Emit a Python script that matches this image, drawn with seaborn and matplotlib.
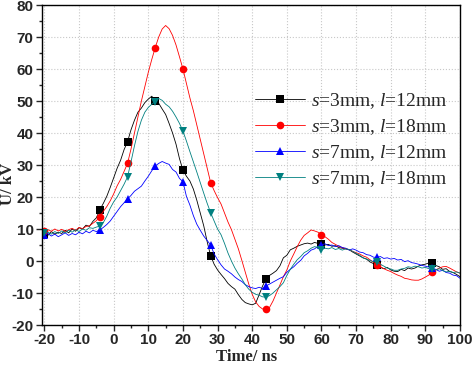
import numpy as np
import matplotlib
matplotlib.use("Agg")
import matplotlib.pyplot as plt
from matplotlib.ticker import MultipleLocator
from matplotlib.font_manager import FontProperties
import seaborn as sns

# time axis, 1 ns steps
time_ns = np.arange(-20, 101, 1)

u_s3_l12 = [
    8.5, 8.0, 9.2, 8.4, 9.0, 8.6, 9.6, 8.8, 10.0, 9.3,
    10.4, 10.0, 11.2, 10.8, 12.4, 13.5, 16.0, 18.0, 20.2, 23.0,
    26.0, 29.0, 31.5, 34.8, 37.3, 41.0, 44.0, 46.5, 47.8, 49.5,
    50.6, 51.5, 50.0, 49.3, 47.5, 45.8, 43.0, 40.0, 36.5, 32.0,
    28.4, 26.5, 25.0, 22.5, 19.0, 15.0, 11.0, 6.0, 1.6, -1.0,
    -2.8, -4.2, -5.5, -7.0, -8.0, -8.8, -10.5, -12.0, -13.0, -13.4,
    -13.7, -13.2, -10.5, -7.8, -5.5, -4.5, -3.8, -3.0, -1.5, 1.0,
    1.8, 3.5, 4.0, 4.6, 5.0, 5.4, 5.6, 5.3, 5.8, 5.5,
    5.3, 5.0, 5.2, 4.6, 4.8, 4.2, 4.0, 3.8, 3.5, 2.8,
    2.2, 1.6, 1.0, 0.6, -0.3, -0.8, -1.4, -2.0, -2.4, -2.0,
    -2.8, -3.2, -3.3, -2.6, -3.0, -2.2, -2.5, -2.2, -1.6, -1.2,
    -1.0, -0.6, -0.7, -1.4, -1.8, -2.6, -2.4, -3.3, -3.6, -4.2,
    -4.9,
]

u_s3_l18 = [
    9.5, 9.8, 9.3, 10.0, 9.4, 9.9, 9.2, 9.8, 10.2, 9.6,
    10.5, 10.1, 10.8, 11.0, 11.8, 12.6, 13.9, 15.5, 17.0, 18.8,
    21.0, 23.5, 25.5, 28.0, 30.5, 35.0, 40.0, 45.0, 50.0, 54.5,
    59.0, 63.0, 66.7, 70.0, 72.5, 73.6, 72.6, 70.5, 67.5, 63.8,
    60.0, 55.5, 51.0, 47.0, 42.5, 38.0, 33.5, 29.0, 24.5, 22.0,
    19.8, 17.8, 15.0, 12.2, 9.8, 6.8, 3.8, 0.2, -3.5, -7.2,
    -10.4, -12.8, -14.2, -15.0, -15.1, -14.5, -12.5, -10.0, -7.5, -4.9,
    -2.8, 0.0, 2.2, 4.5, 6.5, 8.0, 8.8, 9.7, 9.4, 9.0,
    8.1, 7.6, 6.8, 5.8, 5.2, 4.6, 4.2, 3.8, 3.6, 3.0,
    2.6, 2.2, 1.6, 1.2, 0.4, -0.4, -1.1, -1.8, -2.4, -2.9,
    -3.3, -3.9, -4.4, -4.8, -5.4, -5.6, -5.9, -6.0, -6.0, -5.6,
    -5.0, -4.4, -3.3, -2.8, -2.2, -1.8, -1.7, -2.2, -2.8, -3.4,
    -3.8,
]

u_s7_l12 = [
    8.0, 8.6, 7.8, 8.4, 7.6, 8.2, 8.8, 8.0, 8.6, 8.2,
    9.0, 8.5, 9.3, 8.8, 9.6, 9.2, 9.7, 10.5, 11.4, 12.5,
    14.0, 15.5, 17.0, 18.2, 19.4, 20.5, 21.8, 22.6, 23.4, 25.0,
    26.5, 28.2, 29.7, 30.5, 31.1, 30.6, 30.2, 28.6, 27.8, 25.8,
    24.8, 20.2, 17.5, 14.2, 11.5, 9.6, 7.8, 6.4, 5.0, 2.2,
    0.4, -1.2, -2.5, -3.2, -4.0, -5.0, -5.8, -6.4, -7.4, -8.0,
    -8.4, -8.6, -8.2, -8.6, -7.8, -7.2, -6.6, -6.0, -5.4, -4.9,
    -3.5, -2.6, -1.8, -0.7, 0.2, 1.6, 2.4, 3.4, 3.8, 4.6,
    5.0, 5.4, 4.8, 5.0, 4.5, 4.8, 4.2, 4.0, 3.4, 3.8,
    3.4, 2.8, 2.6, 2.0, 1.8, 1.2, 1.1, 1.4, 0.8, 1.0,
    0.6, 0.8, 0.3, 0.5, -0.2, 0.1, -0.5, -0.7, -1.0, -1.4,
    -1.6, -1.9, -2.3, -2.6, -3.2, -2.9, -3.6, -3.8, -4.4, -4.6,
    -5.4,
]

u_s7_l18 = [
    8.6, 9.0, 8.4, 9.2, 8.6, 9.4, 8.8, 9.6, 9.0, 9.8,
    9.2, 10.0, 9.6, 10.4, 10.2, 10.6, 10.9, 12.0, 14.0, 16.5,
    18.5, 20.0, 22.0, 24.0, 26.3, 31.0, 36.0, 40.5, 44.0, 46.5,
    48.0, 49.0, 49.8, 50.8, 50.2, 49.0, 48.2, 46.8, 45.0, 43.0,
    40.6, 37.5, 34.2, 31.0, 27.8, 24.5, 21.2, 18.0, 15.1, 12.5,
    10.0, 8.2, 5.5, 2.5, 0.0, -2.2, -4.0, -5.6, -7.4, -8.8,
    -9.8, -10.4, -10.7, -11.2, -11.3, -10.8, -10.0, -9.0, -8.0, -6.8,
    -4.5, -2.6, -1.0, 0.4, 1.4, 2.6, 3.2, 4.0, 4.5, 4.2,
    3.5, 4.0, 3.8, 4.2, 3.6, 3.9, 3.4, 3.8, 3.6, 3.0,
    2.4, 1.8, 1.0, 0.6, 0.2, -0.2, -0.3, -1.0, -1.6, -2.2,
    -2.5, -2.9, -2.9, -2.5, -2.3, -1.8, -2.0, -1.6, -1.8, -2.2,
    -2.0, -2.4, -2.6, -2.8, -2.4, -3.0, -3.4, -3.2, -3.6, -3.4,
    -3.8,
]

# times where the symbols sit on each curve
marker_times = [-20, -4, 4, 12, 20, 28, 44, 60, 76, 92]

series = [
    (u_s3_l12, "black", "s", r"$\it{s}$=3mm, $\it{l}$=12mm"),
    (u_s3_l18, "red", "o", r"$\it{s}$=3mm, $\it{l}$=18mm"),
    (u_s7_l12, "blue", "^", r"$\it{s}$=7mm, $\it{l}$=12mm"),
    (u_s7_l18, "#008080", "v", r"$\it{s}$=7mm, $\it{l}$=18mm"),
]

sns.set_style("ticks")
plt.rcParams["font.family"] = ["Liberation Sans", "DejaVu Sans"]
plt.rcParams["axes.unicode_minus"] = False
plt.rcParams["mathtext.fontset"] = "custom"
plt.rcParams["mathtext.rm"] = "Liberation Serif"
plt.rcParams["mathtext.it"] = "Liberation Serif:italic"

fig = plt.figure(figsize=(4.74, 3.66), dpi=100)
ax = fig.add_axes([0.0886, 0.112, 0.8819, 0.8743])

mark_idx = [int(t - time_ns[0]) for t in marker_times]
for vals, col, mk, lab in series:
    sns.lineplot(x=time_ns, y=vals, ax=ax, color=col, linewidth=0.6,
                 marker=mk, markevery=mark_idx, markersize=5.5,
                 markeredgewidth=0, estimator=None, label=lab)

ax.set_xlim(-20.7, 100)
ax.set_ylim(-20, 80)
ax.xaxis.set_major_locator(MultipleLocator(10))
ax.xaxis.set_minor_locator(MultipleLocator(5))
ax.yaxis.set_major_locator(MultipleLocator(10))
ax.yaxis.set_minor_locator(MultipleLocator(5))
ax.grid(True, which="major", color="#c8c8c8", linestyle=":", linewidth=0.8)

ax.tick_params(which="major", direction="out", length=4, width=1,
               top=False, right=False, pad=2)
ax.tick_params(which="minor", direction="out", length=2.5, width=1,
               top=False, right=False)

for sp in ax.spines.values():
    sp.set_visible(True)
    sp.set_color("black")
    sp.set_linewidth(1.0)

ax.set_xlabel("Time/ ns", family="Liberation Serif", fontweight="bold", fontsize=12)
ax.set_ylabel("U/ kV", family="Liberation Serif", fontweight="bold", fontsize=12)
ax.xaxis.set_label_coords(0.49, -0.074)
ax.yaxis.set_label_coords(-0.062, 0.44)

ax.legend(loc="upper left", bbox_to_anchor=(0.49, 0.756), frameon=False,
          prop={"family": "Liberation Serif", "size": 14},
          handlelength=2.6, handletextpad=0.3, labelspacing=0.32,
          borderaxespad=0, numpoints=1)

tick_font = FontProperties(family="Liberation Sans", weight="bold", size=11)
fig.canvas.draw()
for lbl in ax.get_xticklabels() + ax.get_yticklabels():
    lbl.set_fontproperties(tick_font)

fig.savefig("out.png", dpi=100)
